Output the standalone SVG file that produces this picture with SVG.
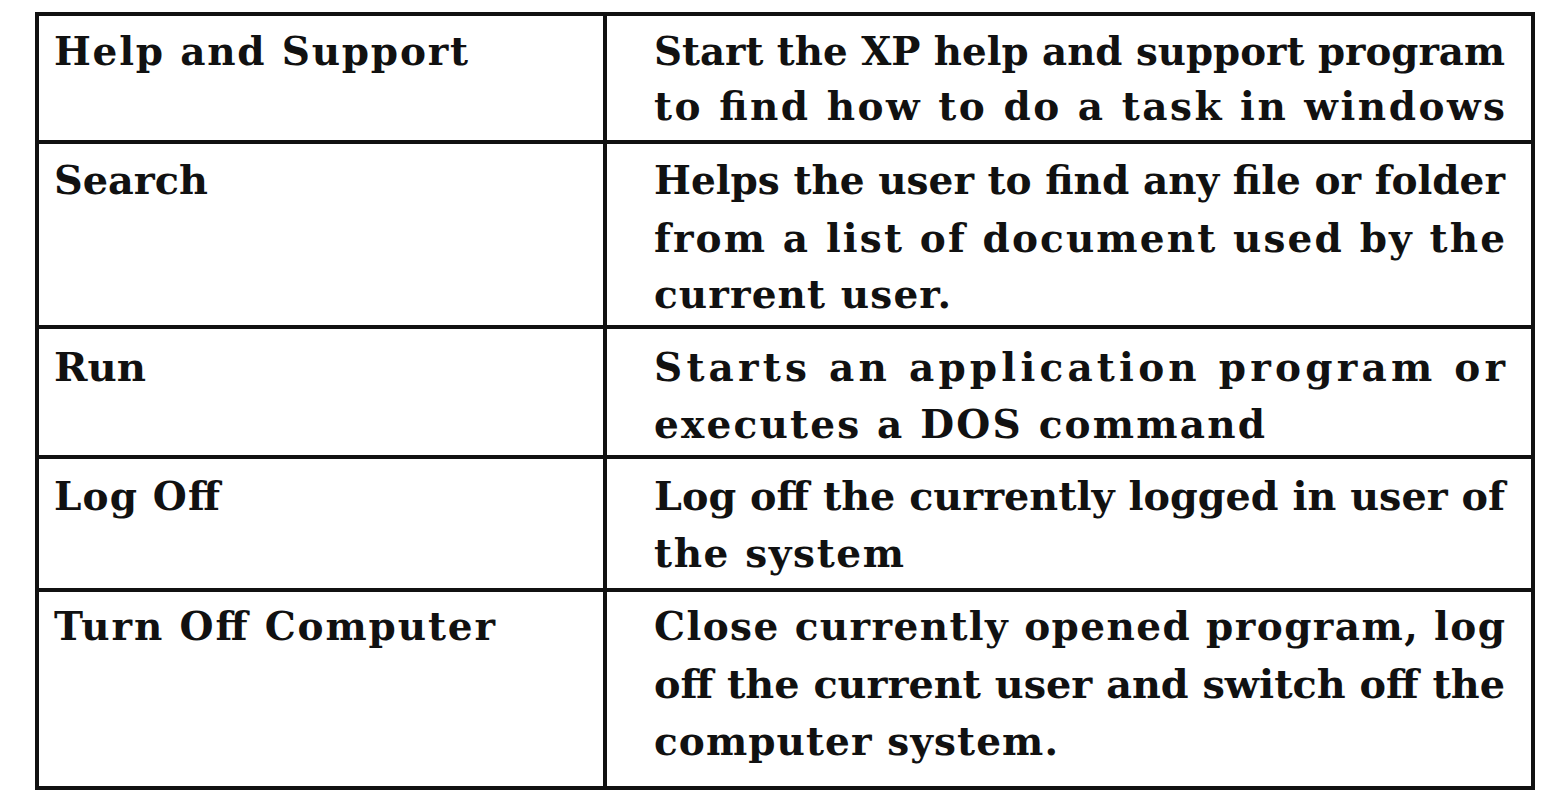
<svg xmlns="http://www.w3.org/2000/svg" width="1567" height="811" viewBox="0 0 1567 811">
<style>
text{font-family:"DejaVu Serif","Liberation Serif",serif;font-weight:bold;font-size:39px;fill:#111}
.l{stroke:#111;stroke-width:4;fill:none}
</style>
<rect width="1567" height="811" fill="#fff"/>
<g id="grid">
<rect class="l" x="37" y="14" width="1496" height="774"/>
<line class="l" x1="605" y1="14" x2="605" y2="788"/>
<line class="l" x1="37" y1="142" x2="1533" y2="142"/>
<line class="l" x1="37" y1="327" x2="1533" y2="327"/>
<line class="l" x1="37" y1="457" x2="1533" y2="457"/>
<line class="l" x1="37" y1="590" x2="1533" y2="590"/>
</g>
<g id="row1">
<text x="54" y="65" textLength="414" lengthAdjust="spacing">Help and Support</text>
<text x="654" y="65" textLength="851" lengthAdjust="spacingAndGlyphs">Start the XP help and support program</text>
<text x="654" y="120" textLength="851" lengthAdjust="spacing">to find how to do a task in windows</text>
</g>
<g id="row2">
<text x="54" y="194" textLength="154" lengthAdjust="spacingAndGlyphs">Search</text>
<text x="654" y="194" textLength="851" lengthAdjust="spacingAndGlyphs">Helps the user to find any file or folder</text>
<text x="654" y="252" textLength="851" lengthAdjust="spacing">from a list of document used by the</text>
<text x="654" y="308" textLength="297" lengthAdjust="spacing">current user.</text>
</g>
<g id="row3">
<text x="54" y="381" textLength="92" lengthAdjust="spacingAndGlyphs">Run</text>
<text x="654" y="381" textLength="851" lengthAdjust="spacing">Starts an application program or</text>
<text x="654" y="438" textLength="611" lengthAdjust="spacing">executes a DOS command</text>
</g>
<g id="row4">
<text x="54" y="510" textLength="166" lengthAdjust="spacing">Log Off</text>
<text x="654" y="510" textLength="851" lengthAdjust="spacingAndGlyphs">Log off the currently logged in user of</text>
<text x="654" y="567" textLength="250" lengthAdjust="spacing">the system</text>
</g>
<g id="row5">
<text x="54" y="640" textLength="441" lengthAdjust="spacing">Turn Off Computer</text>
<text x="654" y="640" textLength="851" lengthAdjust="spacing">Close currently opened program, log</text>
<text x="654" y="698" textLength="851" lengthAdjust="spacingAndGlyphs">off the current user and switch off the</text>
<text x="654" y="755" textLength="404" lengthAdjust="spacing">computer system.</text>
</g>
</svg>
